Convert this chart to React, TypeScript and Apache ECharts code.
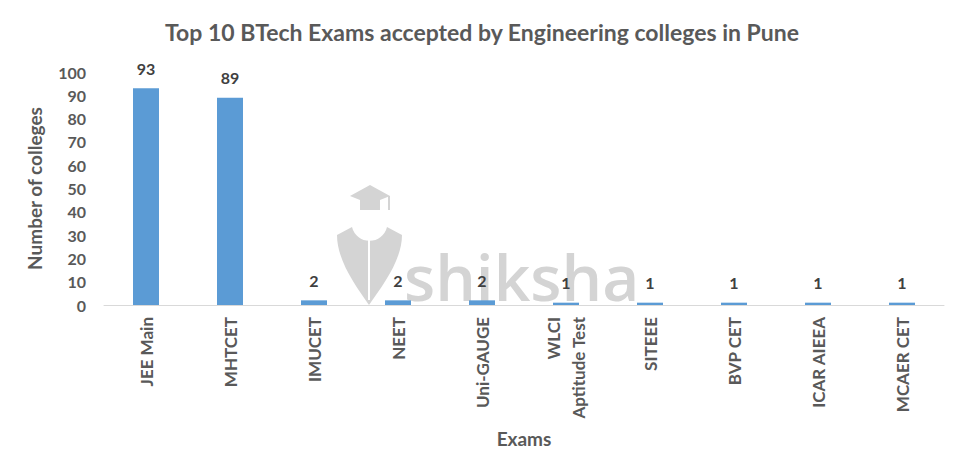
import React, { useEffect, useRef } from "react";
import * as echarts from "echarts";

const categories = [
  "JEE Main",
  "MHTCET",
  "IMUCET",
  "NEET",
  "Uni-GAUGE",
  "WLCI\nAptitude Test",
  "SITEEE",
  "BVP CET",
  "ICAR AIEEA",
  "MCAER CET",
];
const colleges = [93, 89, 2, 2, 2, 1, 1, 1, 1, 1];
const yTicks = { min: 0, max: 100, interval: 10 };

const FONT = "Lato, 'Open Sans', sans-serif";

echarts.graphic.registerShape(
  "nib",
  echarts.graphic.extendPath(
    "M0,8 C0,33 18,58 32,78 C46,58 65,33 65,8 L50,0 A18,18 0 0 1 15,0 Z",
    {}
  )
);

export default function App() {
  const ref = useRef<HTMLDivElement>(null);
  useEffect(() => {
    if (!ref.current) return;
    document.body.style.margin = "0";
    const chart = echarts.init(ref.current, null, { renderer: "svg" });
    chart.setOption({
      animation: false,
      backgroundColor: "#ffffff",
      title: {
        text: "Top 10 BTech Exams accepted by Engineering colleges in Pune",
        left: "center",
        top: 15,
        textStyle: { fontFamily: FONT, fontSize: 23, fontWeight: "bold", color: "#595959" },
      },
      grid: { left: 104, right: 20, top: 72, bottom: 148, containLabel: false },
      graphic: [
        {
          type: "group",
          silent: true,
          z: 0,
          children: [
            { type: "nib", x: 337, y: 227, style: { fill: "#d4d4d4" } },
            { type: "line", shape: { x1: 369, y1: 240, x2: 369, y2: 300 }, style: { stroke: "#ffffff", lineWidth: 2 } },
            { type: "polygon", shape: { points: [[350, 196], [370, 185], [390, 196], [370, 204]] }, style: { fill: "#d4d4d4" } },
            { type: "rect", shape: { x: 360, y: 198, width: 20, height: 12 }, style: { fill: "#d4d4d4" } },
            { type: "rect", shape: { x: 388, y: 196, width: 2, height: 14 }, style: { fill: "#d4d4d4" } },
            {
              type: "text",
              x: 404,
              y: 308,
              style: {
                text: "shiksha",
                fontFamily: "'Open Sans', sans-serif",
                fontSize: 64,
                fontWeight: 600,
                fill: "#d4d4d4",
                verticalAlign: "bottom",
              },
            },
          ],
        },
      ],
      xAxis: {
        type: "category",
        data: categories,
        name: "Exams",
        nameLocation: "middle",
        nameGap: 124,
        nameTextStyle: { fontFamily: FONT, fontSize: 19, fontWeight: "bold", color: "#595959" },
        axisLine: { lineStyle: { color: "#d9d9d9", width: 1 } },
        axisTick: { show: false },
        axisLabel: {
          rotate: 90,
          interval: 0,
          margin: 12,
          fontFamily: FONT,
          fontSize: 17,
          fontWeight: "bold",
          color: "#595959",
          lineHeight: 25,
        },
      },
      yAxis: {
        type: "value",
        min: yTicks.min,
        max: yTicks.max,
        interval: yTicks.interval,
        name: "Number of colleges",
        nameLocation: "middle",
        nameGap: 60,
        nameTextStyle: { fontFamily: FONT, fontSize: 19, fontWeight: "bold", color: "#595959" },
        axisLine: { show: false },
        axisTick: { show: false },
        splitLine: { show: false },
        axisLabel: {
          margin: 18,
          fontFamily: FONT,
          fontSize: 16,
          fontWeight: "bold",
          color: "#595959",
        },
      },
      series: [
        {
          type: "bar",
          data: colleges,
          barWidth: 26,
          itemStyle: { color: "#5b9bd5" },
          label: {
            show: true,
            position: "top",
            distance: 12,
            fontFamily: FONT,
            fontSize: 16,
            fontWeight: "bold",
            color: "#404040",
          },
          z: 3,
        },
      ],
    });
    return () => chart.dispose();
  }, []);
  return <div ref={ref} style={{ width: 964, height: 453 }} />;
}
